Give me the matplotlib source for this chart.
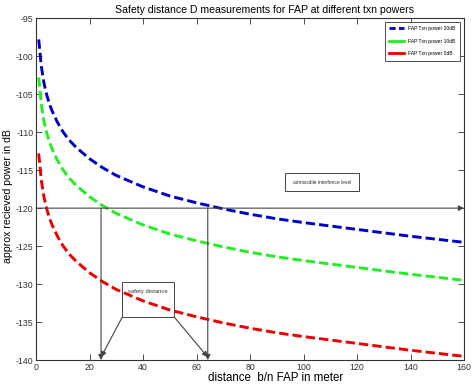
import matplotlib
matplotlib.use("Agg")
import matplotlib.pyplot as plt
from matplotlib.patches import Rectangle
from matplotlib.lines import Line2D

plt.rcParams['font.family'] = ['Liberation Sans', 'DejaVu Sans']
plt.rcParams['axes.unicode_minus'] = False

distance = [1, 2, 3, 4, 5, 6, 8, 10, 12, 15, 20, 25, 30, 40, 50, 60, 70, 80, 90, 100, 120, 140, 160]
power_20dB = [-97.8, -101.4, -103.6, -105.1, -106.3, -107.2, -108.7, -109.9, -110.9, -112.0, -113.5,
              -114.7, -115.7, -117.2, -118.4, -119.3, -120.1, -120.8, -121.4, -121.9, -122.8, -123.7, -124.5]
power_10dB = [-102.8, -106.4, -108.6, -110.1, -111.3, -112.2, -113.7, -114.9, -115.9, -117.0, -118.5,
              -119.7, -120.7, -122.2, -123.4, -124.3, -125.1, -125.8, -126.4, -126.9, -127.8, -128.7, -129.5]
power_0dB = [-112.8, -116.4, -118.6, -120.1, -121.3, -122.2, -123.7, -124.9, -125.9, -127.0, -128.5,
             -129.7, -130.7, -132.2, -133.4, -134.3, -135.1, -135.8, -136.4, -136.9, -137.8, -138.7, -139.5]
series_labels = ['FAP Txn power 20dB', 'FAP Txn power 10dB', 'FAP Txn power 0dB']
series_colors = ['#0000CC', '#22EE22', '#EE0000']
interference_level = -120
safety_d = [24.3, 64.2]
x_ticks = list(range(0, 161, 20))
y_ticks = list(range(-140, -94, 5))

fig = plt.figure(figsize=(4.74, 3.86), dpi=100)
ax = fig.add_axes([0.076, 0.067, 0.903, 0.886])

dash = (3.2, 1.4)
for vals, c in zip([power_20dB, power_10dB, power_0dB], series_colors):
    ax.plot(distance, vals, color=c, lw=2.1, dashes=dash)

ax.set_xlim(0, 160)
ax.set_ylim(-140, -95)
ax.set_xticks(x_ticks)
ax.set_yticks(y_ticks)
ax.tick_params(direction='in', top=True, right=True, labelsize=6.3, length=4, width=0.6, pad=2, colors='#333333')
for s in ax.spines.values():
    s.set_linewidth(0.8)
    s.set_color('#333333')

ax.set_title('Safety distance D measurements for FAP at different txn powers', fontsize=7.6, pad=4, x=0.533)
ax.set_xlabel('distance  b/n FAP in meter', fontsize=8.3, labelpad=0)
ax.xaxis.set_label_coords(0.56, -0.035)
ax.set_ylabel('approx recieved power in dB', fontsize=7.6, labelpad=2)
ax.yaxis.set_label_coords(-0.053, 0.48)

handles = [Line2D([], [], color=series_colors[0], lw=2.0, dashes=(2.2, 1.2)),
           Line2D([], [], color=series_colors[1], lw=2.0),
           Line2D([], [], color=series_colors[2], lw=2.0)]
leg = ax.legend(handles, series_labels, loc='upper right', fontsize=3.6, handlelength=3.0, borderpad=0.9,
                labelspacing=1.5, handletextpad=0.8,
                fancybox=False, edgecolor='#333333', framealpha=1, bbox_to_anchor=(0.997, 0.997))
leg.get_frame().set_linewidth(0.6)

arrow_kw = dict(arrowstyle='-|>', color='#444444', lw=0.8, mutation_scale=8, shrinkA=0, shrinkB=0)
ax.annotate('', xy=(160, interference_level), xytext=(0, interference_level),
            arrowprops=arrow_kw, annotation_clip=False)
for d in safety_d:
    ax.annotate('', xy=(d, -140), xytext=(d, interference_level),
                arrowprops=arrow_kw, annotation_clip=False)

# safety distance box
bx0, bx1, by0, by1 = 32.3, 51.6, -134.3, -129.7
ax.add_patch(Rectangle((bx0, by0), bx1 - bx0, by1 - by0, fill=False, edgecolor='#444444', lw=0.7))
ax.text((bx0 + bx1) / 2, -131.0, 'safety distance', fontsize=4.2, ha='center', va='center', color='#333333')
ax.annotate('', xy=(safety_d[0], -139.6), xytext=(bx0, by0), arrowprops=arrow_kw, annotation_clip=False)
ax.annotate('', xy=(safety_d[1], -139.6), xytext=(bx1, by0), arrowprops=arrow_kw, annotation_clip=False)

# admissible interference level box
ax0, ax1, ay0, ay1 = 93.0, 120.9, -117.8, -115.4
ax.add_patch(Rectangle((ax0, ay0), ax1 - ax0, ay1 - ay0, fill=False, edgecolor='#444444', lw=0.7))
ax.text((ax0 + ax1) / 2, (ay0 + ay1) / 2, 'admissible interfence level', fontsize=3.5,
        ha='center', va='center', color='#333333')

fig.savefig('out.png', dpi=100)
